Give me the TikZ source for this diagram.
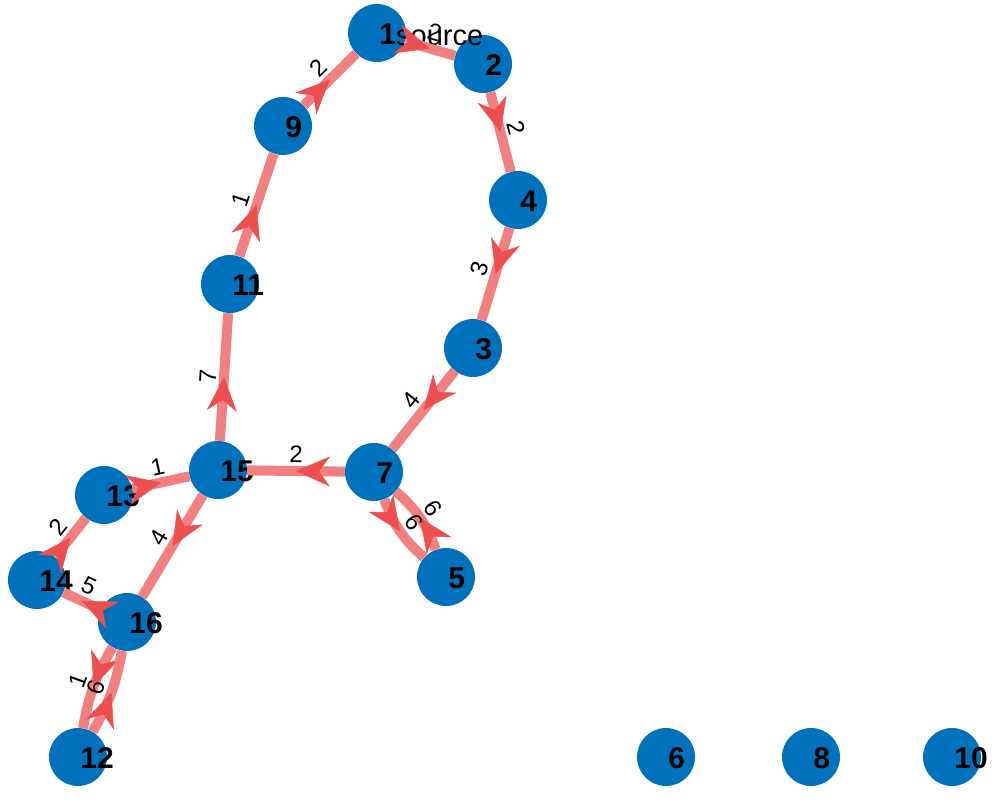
\documentclass[tikz,border=0pt]{standalone}
\usepackage{fontspec}
\setmainfont{Liberation Sans}
\usetikzlibrary{arrows.meta,decorations.markings}
\definecolor{nodeblue}{RGB}{0,114,189}
\definecolor{edgered}{RGB}{242,128,128}
\definecolor{tipred}{RGB}{237,78,78}

\begin{document}
\begin{tikzpicture}[x=1pt, y=-1pt,
    roundnode/.style={circle, fill=nodeblue, minimum size=58pt, inner sep=0pt, label={[nodelabel]right:#1}},
    nodelabel/.style={label distance=-27pt, inner sep=0pt, yshift=-1pt, font=\fontsize{30}{36}\selectfont\bfseries},
    edgeline/.style={draw=edgered, line width=10pt, postaction={decorate, decoration={markings, mark=at position 0.5 with {\arrow[tipred, line width=0.5pt]{Stealth[length=34pt, width=30pt, inset=11pt]}}}}},
    edgelabel/.style={midway, sloped, above, inner sep=3pt, font=\fontsize{24}{28}\selectfont}]
    \useasboundingbox (0,0) rectangle (1005,805);

    %Nodes
    \node[roundnode=1]      (v1)  at (377,33)  {};
    \node[roundnode=2]      (v2)  at (483,64)  {};
    \node[roundnode=9]      (v9)  at (283,126) {};
    \node[roundnode=4]      (v4)  at (518,200) {};
    \node[roundnode=11]     (v11) at (230,284) {};
    \node[roundnode=3]      (v3)  at (473,348) {};
    \node[roundnode=15]     (v15) at (218,470) {};
    \node[roundnode=7]      (v7)  at (374,472) {};
    \node[roundnode=13]     (v13) at (104,495) {};
    \node[roundnode=5]      (v5)  at (446,577) {};
    \node[roundnode=14]     (v14) at (37,580)  {};
    \node[roundnode=16]     (v16) at (127,622) {};
    \node[roundnode=12]     (v12) at (78,757)  {};
    \node[roundnode=6]      (v6)  at (666,757) {};
    \node[roundnode=8]      (v8)  at (811,757) {};
    \node[roundnode=10]     (v10) at (952,757) {};
    \node[anchor=west, inner sep=0pt, font=\fontsize{29}{34}\selectfont] (src) at (396,38) {source};

    %Lines
    \draw[edgeline] (v1) -- node[edgelabel] {2} (v2);
    \draw[edgeline] (v2) -- node[edgelabel] {2} (v4);
    \draw[edgeline] (v4) -- node[edgelabel] {3} (v3);
    \draw[edgeline] (v3) -- node[edgelabel] {4} (v7);
    \draw[edgeline] (v7) -- node[edgelabel] {2} (v15);
    \draw[edgeline] (v15) -- node[edgelabel] {7} (v11);
    \draw[edgeline] (v11) -- node[edgelabel] {1} (v9);
    \draw[edgeline] (v9) -- node[edgelabel] {2} (v1);
    \draw[edgeline] (v13) -- node[edgelabel] {1} (v15);
    \draw[edgeline] (v15) -- node[edgelabel] {4} (v16);
    \draw[edgeline] (v16) -- node[edgelabel] {5} (v14);
    \draw[edgeline] (v14) -- node[edgelabel] {2} (v13);
    \draw[edgeline] (v5) to[bend right=14] node[edgelabel] {6} (v7);
    \draw[edgeline] (v7) to[bend right=14] node[edgelabel] {6} (v5);
    \draw[edgeline] (v16) to[bend right=10] node[edgelabel] {1} (v12);
    \draw[edgeline] (v12) to[bend right=10] node[edgelabel] {6} (v16);
\end{tikzpicture}
\end{document}
